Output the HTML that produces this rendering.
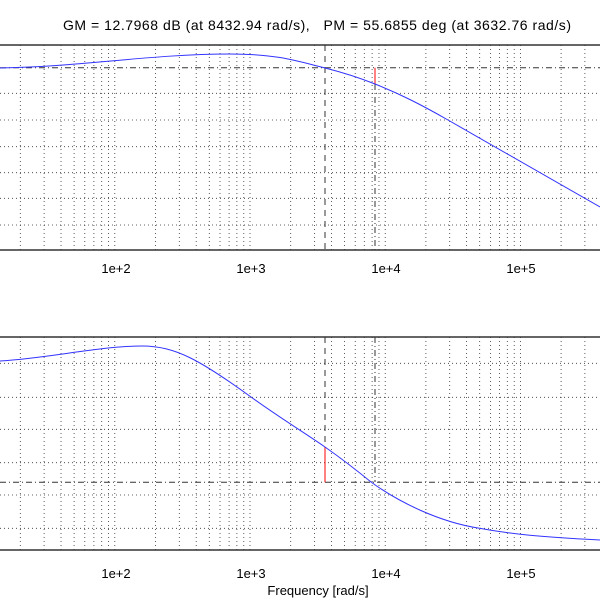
<!DOCTYPE html>
<html><head><meta charset="utf-8"><style>html,body{margin:0;padding:0;background:#fff}svg{display:block}</style></head>
<body>
<svg width="600" height="600" viewBox="0 0 600 600" xmlns="http://www.w3.org/2000/svg" font-family="Liberation Sans, sans-serif">
<text x="317" y="30" font-size="14" text-anchor="middle" textLength="508" fill="#000" xml:space="preserve">GM = 12.7968 dB (at 8432.94 rad/s),&#160;&#160; PM = 55.6855 deg (at 3632.76 rad/s)</text>

<!-- top plot -->
<g stroke="#333" stroke-width="0.8" stroke-dasharray="1 3" transform="translate(0,45)">
<path d="M20.3 0v205M44.1 0v205M61 0v205M74.1 0v205M84.8 0v205M93.9 0v205M101.7 0v205M108.6 0v205M114.8 0v205
M155.5 0v205M179.3 0v205M196.2 0v205M209.3 0v205M220 0v205M229.1 0v205M236.9 0v205M243.8 0v205M250 0v205
M290.7 0v205M314.5 0v205M331.4 0v205M344.5 0v205M355.2 0v205M364.3 0v205M372.1 0v205M379 0v205M385.2 0v205
M425.9 0v205M449.7 0v205M466.6 0v205M479.7 0v205M490.4 0v205M499.5 0v205M507.3 0v205M514.2 0v205M520.4 0v205
M561.1 0v205M584.9 0v205"/>
</g>
<g stroke="#333" stroke-width="0.8" stroke-dasharray="1 3">
<path d="M0 93.3H600M0 120H600M0 146.7H600M0 172.7H600M0 198.3H600M0 225H600"/>
</g>
<path d="M0 67.7H600" stroke="#333" stroke-width="1" stroke-dasharray="6 3 1 3"/>
<path d="M325 45V250" stroke="#333" stroke-width="1" stroke-dasharray="6 5"/>
<path d="M375 84V250" stroke="#333" stroke-width="1" stroke-dasharray="6 3 1 3"/>
<path d="M375 67.7V84" stroke="#f00" stroke-width="1"/>
<path d="M0 68 C 80 67 150 54 230 54 C 280 54 300 62 325 68 C 345 73 360 78 375 84 C 400 94 420 104 448 120 L 600 207" fill="none" stroke="#33f" stroke-width="1"/>
<path d="M0 45H600M0 250H600" stroke="#333" stroke-width="1.5"/>
<g font-size="13" text-anchor="middle" fill="#000">
<text x="116" y="273">1e+2</text><text x="251" y="273">1e+3</text><text x="386" y="273">1e+4</text><text x="521" y="273">1e+5</text>
</g>

<!-- bottom plot -->
<g stroke="#333" stroke-width="0.8" stroke-dasharray="1 3" transform="translate(0,337)">
<path d="M20.3 0v213M44.1 0v213M61 0v213M74.1 0v213M84.8 0v213M93.9 0v213M101.7 0v213M108.6 0v213M114.8 0v213
M155.5 0v213M179.3 0v213M196.2 0v213M209.3 0v213M220 0v213M229.1 0v213M236.9 0v213M243.8 0v213M250 0v213
M290.7 0v213M314.5 0v213M331.4 0v213M344.5 0v213M355.2 0v213M364.3 0v213M372.1 0v213M379 0v213M385.2 0v213
M425.9 0v213M449.7 0v213M466.6 0v213M479.7 0v213M490.4 0v213M499.5 0v213M507.3 0v213M514.2 0v213M520.4 0v213
M561.1 0v213M584.9 0v213"/>
</g>
<g stroke="#333" stroke-width="0.8" stroke-dasharray="1 3">
<path d="M0 363.3H600M0 397.3H600M0 429.3H600M0 462.7H600M0 495H600M0 528.3H600"/>
</g>
<path d="M0 482.3H600" stroke="#333" stroke-width="1" stroke-dasharray="6 3 1 3"/>
<path d="M325 337V447" stroke="#333" stroke-width="1" stroke-dasharray="6 5"/>
<path d="M375 337V482" stroke="#333" stroke-width="1" stroke-dasharray="6 3 1 3"/>
<path d="M325 447V482.3" stroke="#f00" stroke-width="1"/>
<path d="M0 361 C 50 358 100 346 142 346 C 175 346 200 360 251 397 C 280 418 305 433 325 447 C 345 461 360 473 371 482 C 400 503 440 522 478 528 C 510 534 540 537 600 540" fill="none" stroke="#33f" stroke-width="1"/>
<path d="M0 337H600M0 550H600" stroke="#333" stroke-width="1.5"/>
<g font-size="13" text-anchor="middle" fill="#000">
<text x="116" y="578">1e+2</text><text x="251" y="578">1e+3</text><text x="386" y="578">1e+4</text><text x="521" y="578">1e+5</text>
<text x="318" y="595">Frequency [rad/s]</text>
</g>
</svg>
</body></html>
